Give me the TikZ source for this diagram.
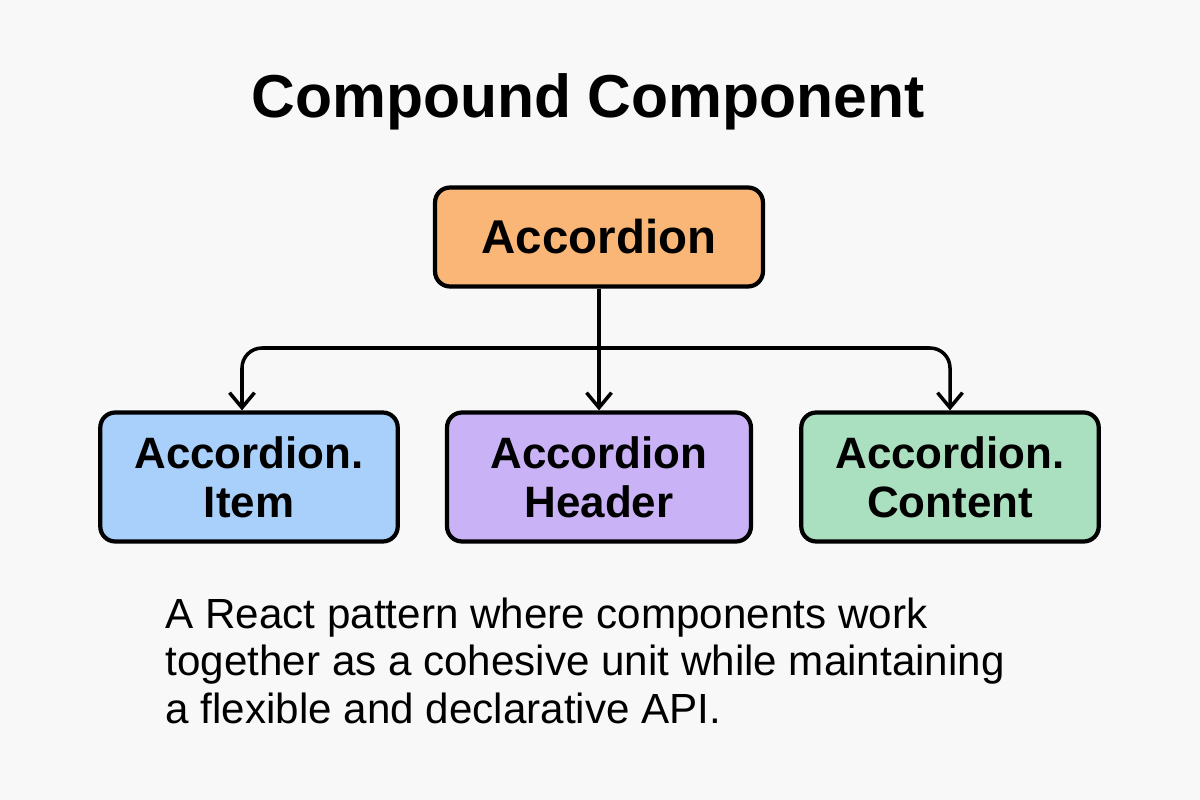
\documentclass[tikz,border=0pt]{standalone}
\usepackage{fontspec}
\setmainfont{Liberation Sans}
\usetikzlibrary{arrows.meta}
\definecolor{bgc}{HTML}{F8F8F8}
\definecolor{rootc}{HTML}{F9B676}
\definecolor{itemc}{HTML}{A9D0FA}
\definecolor{headc}{HTML}{C9B2F5}
\definecolor{contc}{HTML}{AADFBF}
\begin{document}
\begin{tikzpicture}[x=0.02cm,y=-0.02cm,
  >={Straight Barb[length=3mm,width=5mm]},line width=2pt,
  box/.style={draw,rounded corners=3mm,line width=2.4pt,align=center,font=\fontsize{25}{28}\selectfont\bfseries},
  child/.style={box,minimum width=5.95cm,minimum height=2.58cm}]
  \fill[bgc] (0,0) rectangle (1200,800);
  \node[font=\fontsize{34.5}{40}\selectfont\bfseries] (title) at (588,102) {Compound Component};
  \node[box,fill=rootc,minimum width=6.56cm,minimum height=1.98cm,font=\fontsize{27}{30}\selectfont\bfseries] (root) at (599,237) {Accordion};
  \node[child,fill=itemc] (item) at (249,477) {Accordion.\\Item};
  \node[child,fill=headc,minimum width=6.08cm] (head) at (599,477) {Accordion\\Header};
  \node[child,fill=contc] (cont) at (950,477) {Accordion.\\Content};
  \coordinate (split) at (599,348);
  \draw[->] (root) -- (head);
  \draw[->,rounded corners=4mm] (split) -- (242,348) -- (item.north -| 242,0);
  \draw[->,rounded corners=4mm] (split) -- (950,348) -- (cont.north);
  \node[anchor=north west,align=left,font=\fontsize{24}{27.2}\selectfont] (desc) at (158,590)
    {A React pattern where components work\\together as a cohesive unit while maintaining\\a flexible and declarative API.};
\end{tikzpicture}
\end{document}
